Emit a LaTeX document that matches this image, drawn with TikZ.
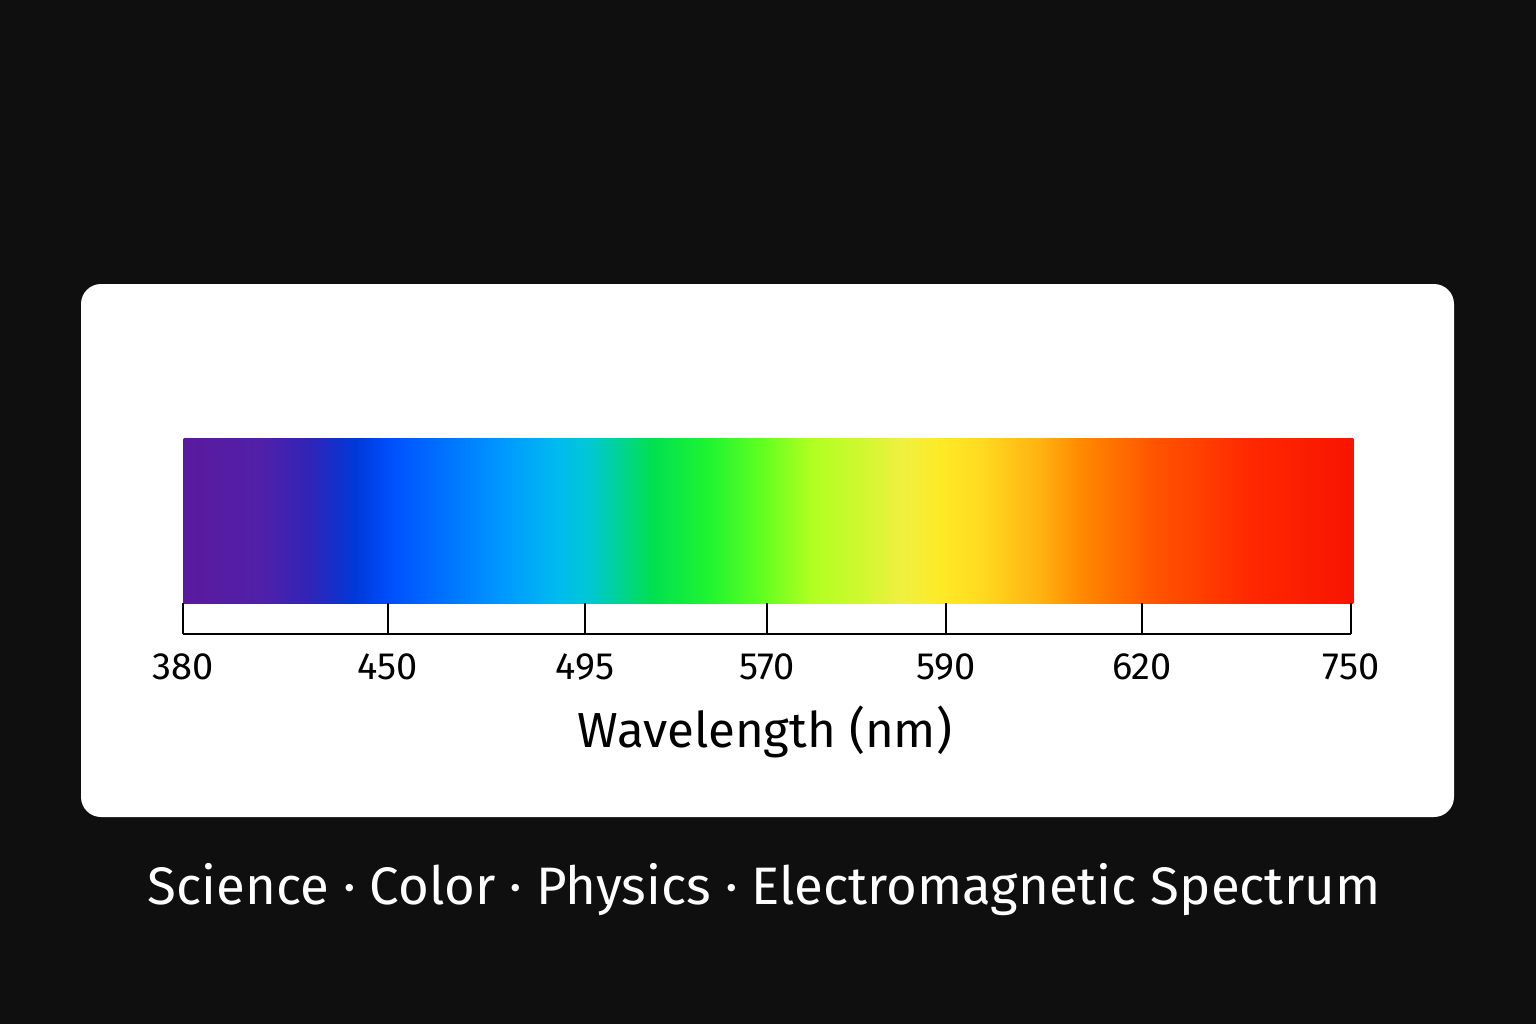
\documentclass[tikz,border=0pt]{standalone}
\usepackage{fontspec}
\setmainfont{Fira Sans}
\usetikzlibrary{positioning}

\definecolor{bgdark}{HTML}{0F0F0F}
\definecolor{spA}{HTML}{5A1A9E}
\definecolor{spB}{HTML}{5020A8}
\definecolor{spC}{HTML}{3024B8}
\definecolor{spD}{HTML}{0038D8}
\definecolor{spE}{HTML}{0050FF}
\definecolor{spF}{HTML}{0098FF}
\definecolor{spG}{HTML}{00BCEE}
\definecolor{spH}{HTML}{00C8D0}
\definecolor{spI}{HTML}{00E050}
\definecolor{spJ}{HTML}{20F530}
\definecolor{spK}{HTML}{60FF20}
\definecolor{spL}{HTML}{B0FF20}
\definecolor{spM}{HTML}{D0F830}
\definecolor{spN}{HTML}{F0F040}
\definecolor{spO}{HTML}{FDEA25}
\definecolor{spP}{HTML}{FFDA20}
\definecolor{spQ}{HTML}{FFB010}
\definecolor{spR}{HTML}{FF8800}
\definecolor{spS}{HTML}{FF5500}
\definecolor{spT}{HTML}{FF2800}
\definecolor{spU}{HTML}{F81400}

% visible spectrum, path fills 25bp..75bp
\pgfdeclarehorizontalshading{spectrum}{100bp}{
  color(0bp)=(spA); color(25bp)=(spA); color(28.3bp)=(spB); color(30.4bp)=(spC);
  color(32.3bp)=(spD); color(33.9bp)=(spE); color(38.6bp)=(spF); color(41.1bp)=(spG);
  color(42.4bp)=(spH); color(45bp)=(spI); color(47.5bp)=(spJ); color(49.7bp)=(spK);
  color(51.8bp)=(spL); color(54bp)=(spM); color(55.7bp)=(spN); color(57.4bp)=(spO);
  color(59.1bp)=(spP); color(61.7bp)=(spQ); color(63.4bp)=(spR); color(66.4bp)=(spS);
  color(70.6bp)=(spT); color(75bp)=(spU); color(100bp)=(spU)}

\begin{document}
\begin{tikzpicture}[x=0.01cm, y=-0.01cm,
        card/.style={fill=white, rounded corners=0.2cm},
        specbar/.style={shading=spectrum, minimum width=11.69cm, minimum height=1.65cm, inner sep=0pt, anchor=north west},
        tick/.style={line width=0.75pt, black},
        ticklabel/.style={font=\fontsize{10.8}{13}\selectfont, text=black},
        axislabel/.style={font=\fontsize{14}{17}\selectfont, text=black},
        caption/.style={font=\fontsize{15}{18}\selectfont, text=white}
    ]
        % --- background and card ---
        \fill[bgdark] (0,0) rectangle (1536,1024);
        \useasboundingbox (0,0) rectangle (1536,1024);
        \fill[card] (81,284) rectangle (1454,817);

        % --- spectrum bar ---
        \node[specbar] (bar) at (183,438) {};

        % --- axis with ticks ---
        \coordinate (axL) at (183,634);
        \coordinate (axR) at (1351,634);
        \draw[tick] (axL) -- (axR);
        \foreach \x/\lab in {183/380, 388/450, 585/495, 767/570, 946/590, 1142/620, 1351/750} {
            \coordinate (t\lab) at (\x,603);
            \draw[tick] (t\lab) -- (\x,634);
            \node[ticklabel] (l\lab) at (\x,667) {\lab};
        }

        \node[axislabel] (xlabel) at (765,732) {Wavelength (nm)};

        % --- caption ---
        \node[caption] (cap) at (764,890) {Science · Color · Physics · Electromagnetic Spectrum};

    \end{tikzpicture}
\end{document}
